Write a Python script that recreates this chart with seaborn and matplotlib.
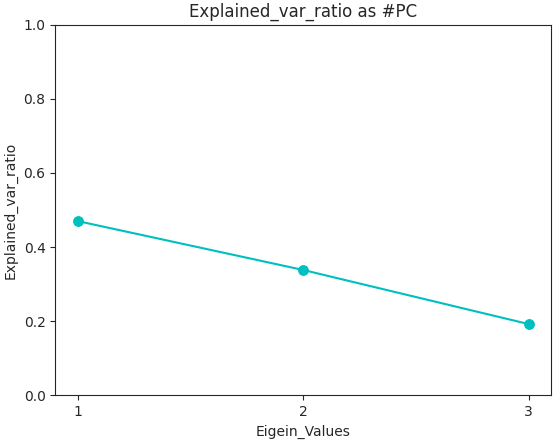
import matplotlib
matplotlib.use("Agg")
import matplotlib.pyplot as plt
import seaborn as sns

pcs = [1, 2, 3]
explained_var_ratio = [0.470, 0.338, 0.192]

sns.set_style("ticks")
plt.rcParams['font.family'] = ['DejaVu Sans']

fig, ax = plt.subplots(figsize=(5.59, 4.44), dpi=100)
sns.lineplot(x=pcs, y=explained_var_ratio, color='c', marker='o', markersize=7,
             markeredgecolor='c', linewidth=1.5, ax=ax)
ax.set_ylim(0, 1)
ax.set_xticks(pcs)
ax.set_title('Explained_var_ratio as #PC')
ax.set_xlabel('Eigein_Values')
ax.set_ylabel('Explained_var_ratio')
plt.subplots_adjust(left=0.099, right=0.986, top=0.944, bottom=0.11)
fig.savefig('out.png', dpi=100)
